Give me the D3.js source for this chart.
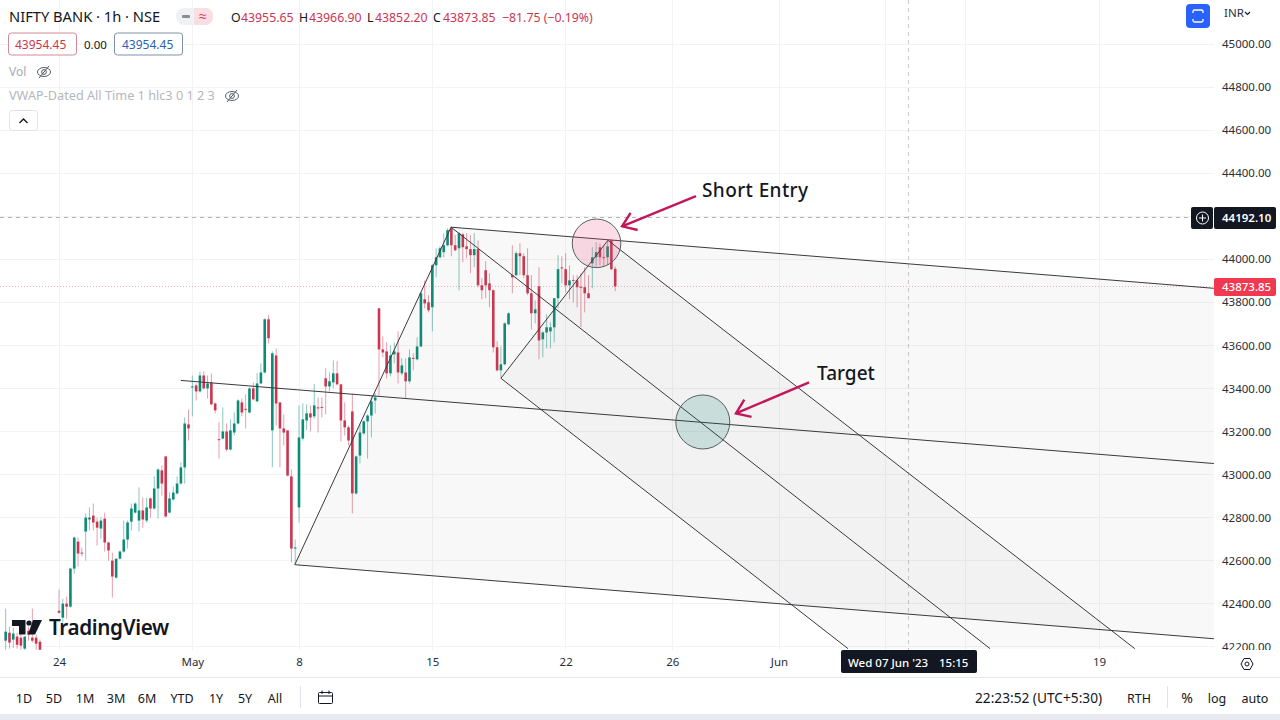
<!DOCTYPE html>
<html><head><meta charset="utf-8">
<script src="https://cdn.jsdelivr.net/npm/d3@7"></script>
<style>
html,body{margin:0;padding:0;background:#fff;overflow:hidden}
svg{display:block}
text{font-family:"Noto Sans",sans-serif}
</style></head><body><svg id="c" width="1280" height="720"></svg>
<script>
// Candles: 1h bars, first bar index -14; index 0 = 24 Apr
const firstBar = -14;
const opens = [42228,42265,42233,42247,42242,42191,42274,42242,42242,42223,42170,42150,42130,42155,
42367,42335,42400,42386,42563,42688,42637,42735,42791,42809,42781,42749,42795,42684,42600,42521,
42609,42642,42698,42781,42823,42786,42833,42786,42889,42842,42935,43019,43084,42823,42884,42912,42958,43033,43233,
43407,43414,43386,43460,43400,43428,43330,43164,43167,43200,43116,43195,43237,43335,43305,43288,43400,43340,43423,43474,43721,43205,43553,43335,43214,43205,42991,42656,
42847,43167,43251,43284,43270,43312,43314,43447,43409,43428,43470,43419,43251,43219,43293,42912,43088,43191,43247,43274,43344,43772,43581,43572,43470,43558,43567,43470,43474,43433,43542,43535,43595,43814,43800,
43777,43972,44009,44033,44065,44144,44065,44051,44116,44060,44047,44019,44047,43879,43949,43888,43856,43591,43484,43512,43698,43926,43926,44028,44014,43926,43842,43749,43874,43628,43660,43665,43684,43819,
43962,43954,43879,43904,43902,43872,43870,43842,43981,44009,44056,44010,44009,44088,43955.65];
const highs = [42377,42293,42288,42265,42261,42247,42293,42377,42256,42233,42176,42165,42160,42175,
42465,42423,42433,42567,42712,42707,42660,42819,42847,42865,42800,42800,42823,42688,42637,42609,
42647,42786,42786,42865,42870,42940,42893,42893,42893,42991,43028,43042,43084,42916,42944,42991,43056,43265,43302,
43460,43423,43479,43479,43460,43470,43335,43242,43312,43237,43256,43288,43349,43353,43372,43405,43428,43470,43516,43726,43740,43572,43586,43335,43279,43205,43023,42698,
43321,43330,43326,43321,43419,43358,43358,43493,43474,43530,43526,43419,43335,43228,43377,43088,43237,43251,43279,43367,43377,43772,43642,43614,43600,43614,43665,43540,43540,43581,43563,43637,43846,43902,43833,
43977,44051,44060,44121,44144,44153,44112,44126,44121,44121,44112,44121,44088,43912,43991,43935,43860,43619,43595,43707,43753,44065,44037,44074,44028,44051,43926,43809,43963,43665,43744,43707,43819,44019,
44014,44028,43972,43926,43926,43935,43963,43926,44056,44079,44074,44065,44088,44093,43966.9];
const lows = [42186,42191,42195,42191,42186,42186,42228,42219,42186,42181,42140,42120,42110,42130,
42354,42312,42330,42381,42540,42572,42619,42600,42740,42740,42670,42702,42642,42600,42428,42516,
42605,42637,42656,42740,42819,42735,42753,42777,42800,42837,42795,42902,42800,42819,42879,42907,42954,42958,43158,
43270,43344,43381,43395,43353,43321,43284,43074,43163,43107,43112,43181,43233,43270,43214,43284,43344,43335,43419,43470,43609,43033,43228,43033,43135,42991,42591,42586,
42777,43158,43205,43200,43260,43195,43265,43279,43386,43400,43414,43153,43181,43135,42819,42907,43051,43186,43074,43172,43284,43367,43544,43447,43456,43516,43423,43461,43353,43423,43484,43530,43591,43772,43753,
43665,43916,44005,44009,44060,44014,44037,43856,43986,44005,43935,43963,43870,43814,43819,43777,43567,43479,43451,43507,43693,43842,43921,43926,43912,43833,43674,43702,43535,43544,43586,43586,43614,43772,
43888,43846,43814,43800,43777,43684,43753,43819,43865,43963,43972,43963,43972,43949,43852.2];
const closes = [42270,42219,42261,42209,42205,42247,42256,42228,42214,42186,42150,42130,42155,42170,
42358,42400,42386,42563,42707,42633,42635,42800,42800,42777,42753,42786,42684,42647,42526,42609,
42642,42698,42777,42842,42865,42833,42791,42847,42842,42935,43023,42958,42805,42889,42916,42958,43033,43237,43214,
43409,43386,43460,43400,43423,43326,43298,43162,43200,43116,43205,43237,43344,43288,43301,43400,43349,43423,43474,43721,43633,43563,43330,43214,43195,42995,42656,42661,
43172,43256,43284,43265,43321,43307,43312,43409,43433,43470,43419,43251,43219,43158,42912,43084,43195,43247,43274,43340,43358,43581,43567,43470,43553,43572,43474,43507,43433,43544,43540,43595,43842,43795,43763,
43972,44009,44051,44065,44135,44065,44042,44121,44056,44047,44019,44047,43879,43856,43879,43856,43591,43484,43512,43702,43749,43916,44028,44014,43926,43842,43749,43767,43623,43660,43684,43684,43819,43954,
43958,43879,43902,43902,43870,43870,43842,43819,44009,44033,44009,44008,44060,43954,43873.85];

const priceTicks = d3.range(42200, 45001, 200);
const gridBars = [0,35,63,98,133,161,189,217,238,273];
const dateTickBars = [0,35,63,98,133,161,189,273];
const dateTickLabels = ['24','May','8','15','22','26','Jun','19'];

// Pitchfork anchors [bar, price]
const forkA = [61.9,42581], forkB = [102.9,44149], forkC = [116,43447], forkD = [144.1,44088];
const fork1Top = [303.15,43865], fork1Bottom = [303.15,42237];
const fork1MidStart = [32,43437], fork1MidEnd = [303.15,43051];
const fork2Center = [244.4,42191], fork2Upper = [282.4,42191], fork2Lower = [207.1,42191];
// Annotations
const entryCircle = [141.1,44074], targetCircle = [169,43244];
const entryArrow = [[167.2,44293],[147.8,44153]], targetArrow = [[196.9,43428],[177.7,43284]];
const crosshairBar = 223, crosshairPrice = 44192.10, lastPrice = 43873.85;
const rangeButtons = ['1D','5D','1M','3M','6M','YTD','1Y','5Y','All'];

const svg = d3.select('#c');
const x = d3.scaleLinear().domain([0,273]).range([59,1099]);
const y = d3.scaleLinear().domain([42200,45000]).range([646.7,44]);
const W = 1214, H = 650;
const crisp = v => Math.floor(v)+.5;
const defs = svg.append('defs');
defs.append('clipPath').attr('id','plot').append('rect').attr('width',W).attr('height',H);
defs.append('clipPath').attr('id','ax').append('rect').attr('x',W).attr('width',66).attr('height',H);
const P = p => [x(p[0]), y(p[1])];

// grid
const g = svg.append('g').attr('clip-path','url(#plot)');
g.selectAll('.h').data(priceTicks).join('line').attr('x1',0).attr('x2',W).attr('y1',d=>crisp(y(d))).attr('y2',d=>crisp(y(d))).attr('stroke','#f2f3f5');
g.selectAll('.v').data(gridBars).join('line').attr('y1',0).attr('y2',H).attr('x1',d=>crisp(x(d))).attr('x2',d=>crisp(x(d))).attr('stroke','#f2f3f5');

// crosshair + last price
g.append('line').attr('x1',0).attr('x2',W).attr('y1',crisp(y(crosshairPrice))).attr('y2',crisp(y(crosshairPrice))).attr('stroke','#b4b6bb').attr('stroke-dasharray','4 4');
g.append('line').attr('x1',crisp(x(crosshairBar))).attr('x2',crisp(x(crosshairBar))).attr('y1',0).attr('y2',H).attr('stroke','#c8cacf').attr('stroke-dasharray','4 4');
g.append('line').attr('x1',0).attr('x2',W).attr('y1',crisp(y(lastPrice))).attr('y2',crisp(y(lastPrice))).attr('stroke','#eeb4be').attr('stroke-dasharray','1 2');

// candles
const GREEN='#0b8c76', RED='#cc3550';
const bars = opens.map((o,i)=>({b:i+firstBar,o,h:highs[i],l:lows[i],c:closes[i]}));
const cg = g.append('g');
cg.selectAll('.w').data(bars).join('line')
  .attr('x1',d=>x(d.b)).attr('x2',d=>x(d.b)).attr('y1',d=>y(d.h)).attr('y2',d=>y(d.l))
  .attr('stroke',d=>d.c>=d.o?GREEN:RED).attr('stroke-opacity',.48).attr('stroke-width',1);
cg.selectAll('.b').data(bars).join('rect')
  .attr('x',d=>x(d.b)-1.3).attr('width',2.6)
  .attr('y',d=>y(Math.max(d.o,d.c))).attr('height',d=>Math.max(1,Math.abs(y(d.o)-y(d.c))))
  .attr('fill',d=>d.c>=d.o?GREEN:RED);

// fork fills
const poly = pts => 'M'+pts.map(P).map(p=>p.join(',')).join('L')+'Z';
g.append('path').attr('d',poly([forkA,forkB,fork1Top,fork1Bottom])).attr('fill','rgba(110,110,110,.05)');
g.append('path').attr('d',poly([forkC,forkD,fork2Upper,fork2Lower])).attr('fill','rgba(110,110,110,.045)');
const seg = (a,b)=>g.append('line').attr('x1',x(a[0])).attr('y1',y(a[1])).attr('x2',x(b[0])).attr('y2',y(b[1])).attr('stroke','#3a3a3e').attr('stroke-width',1);
[[forkA,forkB],[forkB,fork1Top],[forkA,fork1Bottom],[fork1MidStart,fork1MidEnd],[forkC,forkD],[forkB,fork2Center],[forkD,fork2Upper],[forkC,fork2Lower]].forEach(s=>seg(s[0],s[1]));

// annotations
const circ=(c,r,f)=>g.append('circle').attr('cx',x(c[0])).attr('cy',y(c[1])).attr('r',r).attr('fill',f).attr('stroke','#55605e').attr('stroke-width',1);
circ(entryCircle,24.3,'rgba(236,64,122,.18)');
circ(targetCircle,27,'rgba(0,121,107,.17)');
const arrow=(a)=>{
  const [t0,t1]=a.map(P);
  const ang=Math.atan2(t0[1]-t1[1],t0[0]-t1[0]);
  const L=16, sp=0.62;
  const pts=[[t1[0]+L*Math.cos(ang+sp),t1[1]+L*Math.sin(ang+sp)],t1,[t1[0]+L*Math.cos(ang-sp),t1[1]+L*Math.sin(ang-sp)]];
  g.append('line').attr('x1',t0[0]).attr('y1',t0[1]).attr('x2',t1[0]).attr('y2',t1[1]).attr('stroke','#c2185b').attr('stroke-width',2.4);
  g.append('path').attr('d','M'+pts.map(p=>p.join(',')).join('L')).attr('fill','none').attr('stroke','#c2185b').attr('stroke-width',2.4);
};
arrow(entryArrow); arrow(targetArrow);
const label=(t,px,py,ls)=>svg.append('text').attr('x',px).attr('y',py).attr('font-size',19).attr('font-weight',500).attr('letter-spacing',ls).attr('fill','#131722').text(t);
label('Short Entry',702,197,.4); label('Target',817,380,0);

// right axis
const ax = svg.append('g').attr('clip-path','url(#ax)').append('g').attr('transform',`translate(${W},0)`)
 .call(d3.axisRight(y).tickValues(priceTicks).tickSize(0).tickPadding(8).tickFormat(d3.format('.2f')));
ax.select('.domain').remove();
ax.selectAll('text').attr('font-size',11.5).attr('fill','#2a2e39').attr('font-family','"Noto Sans",sans-serif');

// bottom axis
const bx = svg.append('g').attr('transform',`translate(0,${H})`)
 .call(d3.axisBottom(x).tickValues(dateTickBars).tickSize(0).tickPadding(8).tickFormat((d,i)=>dateTickLabels[i]));
bx.select('.domain').remove();
bx.selectAll('text').attr('font-size',11.5).attr('fill','#2a2e39').attr('font-family','"Noto Sans",sans-serif');

// crosshair labels
const txt=(t,px,py,o={})=>svg.append('text').attr('x',px).attr('y',py).attr('font-size',o.s||12).attr('fill',o.f||'#131722').attr('font-weight',o.w||400).attr('text-anchor',o.a||'start').text(t);
svg.append('rect').attr('x',841).attr('y',650).attr('width',136).attr('height',23).attr('rx',2).attr('fill','#131722');
txt("Wed 07 Jun '23",848,667,{f:'#fff',s:11.5,w:500}); txt('15:15',939,667,{f:'#fff',s:11.5,w:500});
svg.append('rect').attr('x',1191).attr('y',207).attr('width',22).attr('height',22).attr('rx',2).attr('fill','#131722');
svg.append('circle').attr('cx',1202.5).attr('cy',218).attr('r',6).attr('fill','none').attr('stroke','#fff');
svg.append('path').attr('d','M1199 218H1206M1202.5 214.5V221.5').attr('stroke','#fff');
svg.append('rect').attr('x',1214).attr('y',207).attr('width',62).attr('height',22).attr('rx',2).attr('fill','#131722');
txt('44192.10',1222,222,{f:'#fff',s:11.5,w:600});
svg.append('rect').attr('x',1214).attr('y',278).attr('width',62).attr('height',18).attr('rx',2).attr('fill','#f0394e');
txt('43873.85',1222,291,{f:'#fff',s:11.5,w:500});

// header
txt('NIFTY BANK · 1h · NSE',9,22,{s:14.7,f:'#131722'});
svg.append('rect').attr('x',176).attr('y',8).attr('width',37).attr('height',17).attr('rx',8).attr('fill','#f0f1f3');
svg.append('path').attr('d','M194 8H205a8 8 0 0 1 8 8v1a8 8 0 0 1 -8 8H194Z').attr('fill','#fbdde4');
svg.append('rect').attr('x',182).attr('y',15).attr('width',8).attr('height',3).attr('rx',1).attr('fill','#8a8d96');
txt('≈',199,21,{s:14,f:'#d8405a'});
const ohlcRow=[['O',231,'#131722'],['43955.65',241,RED],['H',299,'#131722'],['43966.90',309,RED],['L',367,'#131722'],['43852.20',375,RED],['C',433,'#131722'],['43873.85',443,RED],['−81.75 (−0.19%)',502,RED]];
ohlcRow.forEach(r=>txt(r[0],r[1],22,{s:12.3,f:r[2]}));
svg.append('rect').attr('x',8.5).attr('y',33).attr('width',68).attr('height',22).attr('rx',3).attr('fill','#fff').attr('stroke','#d58a98');
txt('43954.45',15,49,{s:12,f:RED});
txt('0.00',84,49,{s:11.5,f:'#131722'});
svg.append('rect').attr('x',114.5).attr('y',33).attr('width',68).attr('height',22).attr('rx',3).attr('fill','#fff').attr('stroke','#7f93ad');
txt('43954.45',122,49,{s:12,f:'#2962b5'});
txt('Vol',9,76,{s:12,f:'#a8abb3'});
txt('VWAP-Dated All Time 1 hlc3 0 1 2 3',9,100,{s:12.7,f:'#b4b7bd'});
const eye=(cx,cy)=>{
  svg.append('ellipse').attr('cx',cx).attr('cy',cy).attr('rx',6.5).attr('ry',4.5).attr('fill','none').attr('stroke','#555a63');
  svg.append('circle').attr('cx',cx).attr('cy',cy).attr('r',2.4).attr('fill','none').attr('stroke','#555a63');
  svg.append('path').attr('d',`M${cx-5} ${cy+6}L${cx+5} ${cy-6}`).attr('stroke','#555a63');
};
eye(44,72); eye(232,96);
svg.append('rect').attr('x',9.5).attr('y',110.5).attr('width',28).attr('height',20).attr('rx',3).attr('fill','#fff').attr('stroke','#e0e3eb');
svg.append('path').attr('d','M19.5 123L23.5 119L27.5 123').attr('fill','none').attr('stroke','#131722').attr('stroke-width',1.3);

// logo
const lg=svg.append('g').attr('fill','#131722');
lg.append('path').attr('d','M12 620H25.5V634.5H19V626H12Z');
lg.append('circle').attr('cx',29).attr('cy',623).attr('r',2.6);
lg.append('path').attr('d','M33 620H42L35 634.5H28Z');
svg.append('text').attr('x',49).attr('y',635).attr('font-size',20.7).attr('font-weight',600).attr('fill','#131722').attr('font-family','Inter,sans-serif').attr('letter-spacing',-0.4).text('TradingView');

// top right
svg.append('rect').attr('x',1186).attr('y',4).attr('width',24).attr('height',24).attr('rx',4).attr('fill','#2962ff');
svg.append('path').attr('d','M1193 13V11.5a1.5 1.5 0 0 1 1.5 -1.5h7a1.5 1.5 0 0 1 1.5 1.5V13M1193 19V20.5a1.5 1.5 0 0 0 1.5 1.5h7a1.5 1.5 0 0 0 1.5 -1.5V19').attr('fill','none').attr('stroke','#fff').attr('stroke-width',1.3);
txt('INR',1224,17,{s:11.5,f:'#2a2e39'});
svg.append('path').attr('d','M1245 12L1247.5 14.5L1250 12').attr('fill','none').attr('stroke','#131722').attr('stroke-width',1.1);

// settings hex
svg.append('path').attr('d','M1241 664L1244 658.5H1250L1253 664L1250 669.5H1244Z').attr('fill','none').attr('stroke','#131722');
svg.append('circle').attr('cx',1247).attr('cy',664).attr('r',2).attr('fill','none').attr('stroke','#131722');

// bottom toolbar
svg.append('line').attr('x1',0).attr('x2',1280).attr('y1',677.5).attr('y2',677.5).attr('stroke','#e6e7eb');
svg.append('rect').attr('x',0).attr('y',714).attr('width',1280).attr('height',6).attr('fill','#e9e9f1');
const btnX=[24,54,85,116,147,182,216,245,275];
rangeButtons.forEach((b,i)=>txt(b,btnX[i],703,{s:12.5,a:'middle',f:'#131722'}));
svg.append('line').attr('x1',300.5).attr('x2',300.5).attr('y1',686).attr('y2',708).attr('stroke','#e0e3eb');
svg.append('rect').attr('x',318.5).attr('y',692.5).attr('width',14).attr('height',11).attr('rx',1).attr('fill','none').attr('stroke','#131722');
svg.append('path').attr('d','M318.5 696H332.5M322 690.5V694M329 690.5V694').attr('stroke','#131722');
txt('22:23:52 (UTC+5:30)',975,703,{s:13.7});
txt('RTH',1139,703,{s:12.5,a:'middle'});
svg.append('line').attr('x1',1167.5).attr('x2',1167.5).attr('y1',686).attr('y2',708).attr('stroke','#e0e3eb');
txt('%',1187,703,{s:14,a:'middle'}); txt('log',1217,703,{s:12.5,a:'middle'}); txt('auto',1255,703,{s:12.5,a:'middle'});
</script></body></html>
